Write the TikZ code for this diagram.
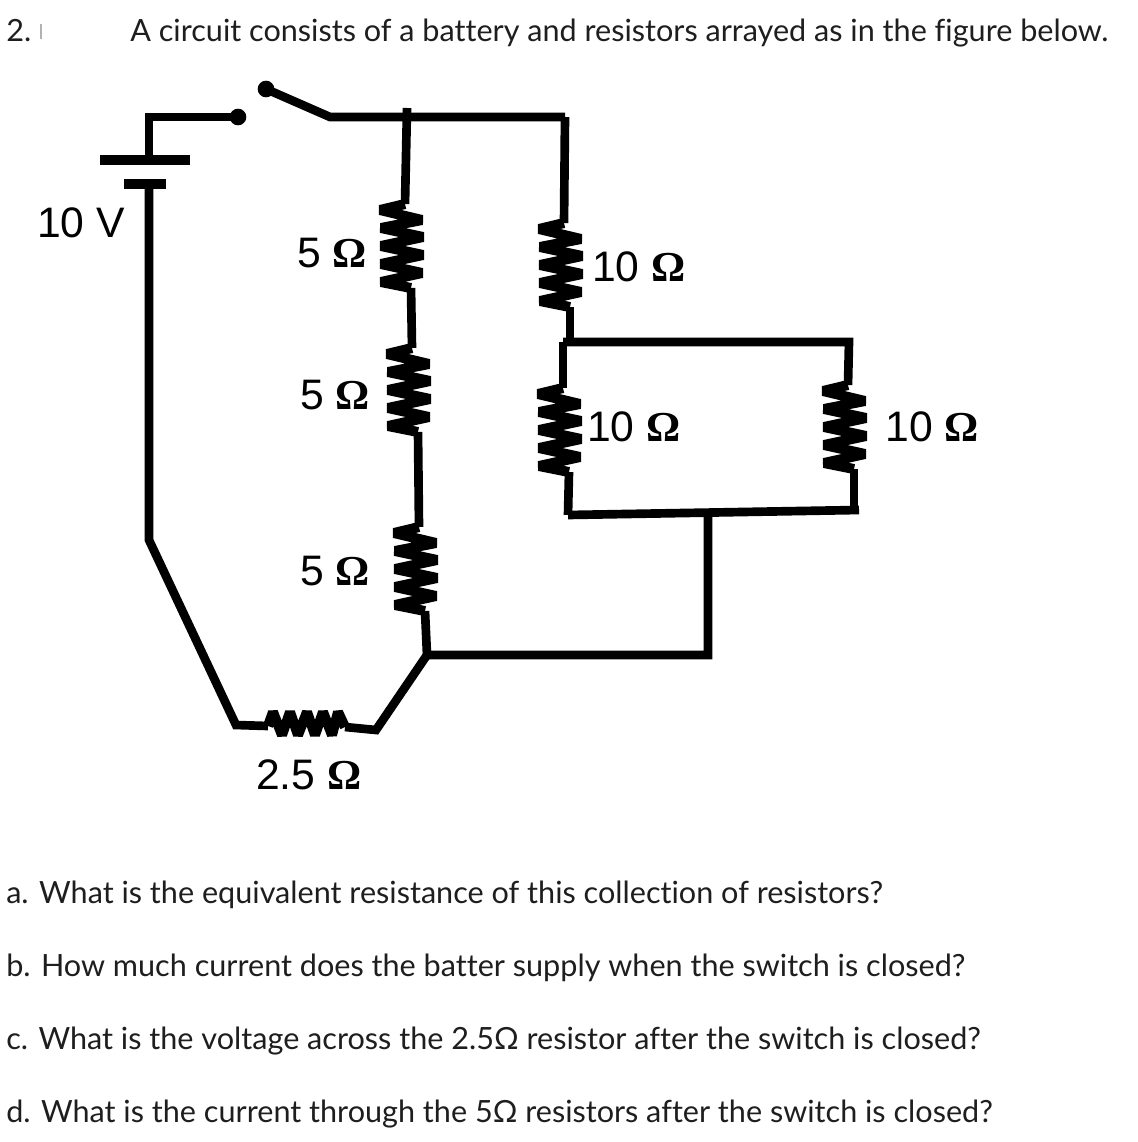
\documentclass[tikz,border=0pt]{standalone}
\usepackage{fontspec}
\setmainfont[Ligatures={NoCommon,NoRare,NoDiscretionary}]{Lato}
\newfontfamily\labelfont{Liberation Sans}
\newfontfamily\omfont[BoldFont={Liberation Serif Bold}]{Liberation Serif}
\newcommand{\Om}{{\omfont\bfseries Ω}}
\definecolor{ink}{HTML}{1E1E1E}
% vertical zig-zag resistor: top at (#1,#2), named #3
\newcommand{\vresistor}[3]{%
  \coordinate (#3t) at (#1,#2);
  \coordinate (#3b) at (#1+6,#2+84);
  \draw[zig] (#3t) -- (#1-25,#2+6) -- (#1+17,#2+16) -- (#1-24,#2+24) -- (#1+18,#2+33)
    -- (#1-24,#2+42) -- (#1+18,#2+51) -- (#1-24,#2+60) -- (#1+17,#2+69) -- (#1-24,#2+78) -- (#3b);}
\tikzset{
  wire/.style={line width=6.5pt,line cap=butt,line join=miter,black},
  zig/.style={line width=7.5pt,line join=bevel,line cap=butt,black},
  plate/.style={line width=6.8pt,black},
  val/.style={font=\labelfont\fontsize{32}{32}\selectfont,anchor=base west,inner sep=0pt},
  body/.style={font=\fontsize{22.95}{23}\selectfont,anchor=base west,inner sep=0pt,text=ink},
  dot/.style={circle,fill=black,inner sep=0pt,minimum size=12.5pt}
}
\begin{document}
\begin{tikzpicture}[x=0.75pt,y=-0.75pt]
\useasboundingbox (0,0) rectangle (1138,1142);
\fill[white] (0,0) rectangle (1138,1142);
% texts
\node[body] (num) at (6,41) {2.};
\coordinate (ta) at (41,24); \coordinate (tb) at (41,39);
\draw[gray!60,line width=0.9pt] (ta) -- (tb);
\node[body] (title) at (130,41) {A circuit consists of a battery and resistors arrayed as in the figure below.};
\node[body] (qa) at (6,903) {a. What is the equivalent resistance of this collection of resistors?};
\node[body] (qb) at (6,976) {b. How much current does the batter supply when the switch is closed?};
\node[body] (qc) at (6,1049) {c. What is the voltage across the 2.5Ω resistor after the switch is closed?};
\node[body] (qd) at (6,1122) {d. What is the current through the 5Ω resistors after the switch is closed?};
\node[val] (lv) at (37,237) {10 V};
\node[val] (l1) at (297,267) {5 \Om};
\node[val] (l2) at (300,409) {5 \Om};
\node[val] (l3) at (300,585) {5 \Om};
\node[val] (l4) at (592,281) {10 \Om};
\node[val] (l5) at (587,441) {10 \Om};
\node[val] (l6) at (885,441) {10 \Om};
\node[val] (l7) at (256,789) {2.5 \Om};
% battery
\coordinate (bl) at (100,160); \coordinate (br) at (190,160);
\coordinate (sl) at (124,184); \coordinate (sr) at (166,184);
\draw[plate] (bl) -- (br);
\draw[plate] (sl) -- (sr);
\coordinate (btop) at (149,160);
\coordinate (bbot) at (149,184);
% switch
\node[dot] (s1) at (238,117) {};
\node[dot] (s2) at (266,89) {};
\coordinate (hinge) at (330,117);
\coordinate (corner) at (149,117);
\coordinate (topj) at (407,108);
\coordinate (topr) at (565,117);
\draw[wire] (btop) -- (corner) -- (s1.center);
\draw[wire] (s2.center) -- (hinge) -- (topr);
% resistors
\vresistor{405}{204}{ra}
\vresistor{412}{348}{rb}
\vresistor{419}{527}{rc}
\vresistor{564}{223}{rd}
\vresistor{563}{388}{re}
\vresistor{848}{385}{rf}
% 2.5 ohm
\coordinate (hl) at (268,726); \coordinate (hr) at (345,727);
\draw[zig] (hl) -- (273,712) -- (282,735) -- (290,712) -- (298,735) -- (307,712) -- (315,735) -- (323,712) -- (332,735) -- (338,712) -- (hr);
% wires
\coordinate (bl1) at (149,540);
\coordinate (bl2) at (236,725);
\coordinate (hr2) at (376,730);
\coordinate (jb) at (427,655);
\coordinate (jr) at (708,655);
\coordinate (jq) at (708,513);
\coordinate (ml) at (563,342);
\coordinate (mr) at (849,342);
\coordinate (lowl) at (568,515);
\coordinate (lowr) at (859,510);
\draw[wire] (bbot) -- (bl1) -- (bl2) -- (hl);
\draw[wire] (hr) -- (hr2) -- (jb);
\draw[wire] (topj) -- (rat);
\draw[wire] (topr) -- (rdt);
\draw[wire] (rab) -- (rbt);
\draw[wire] (rbb) -- (rct);
\draw[wire] (rcb) -- (jb) -- (jr) -- (jq);
\draw[wire] (rdb) -- (570,342);
\draw[wire] (ml) -- (mr) -- (rft);
\draw[wire] (ml) -- (ret);
\draw[wire] (reb) -- (lowl);
\draw[wire] (rfb) -- (854,510);
\draw[wire] (lowl) -- (lowr);
\end{tikzpicture}
\end{document}
